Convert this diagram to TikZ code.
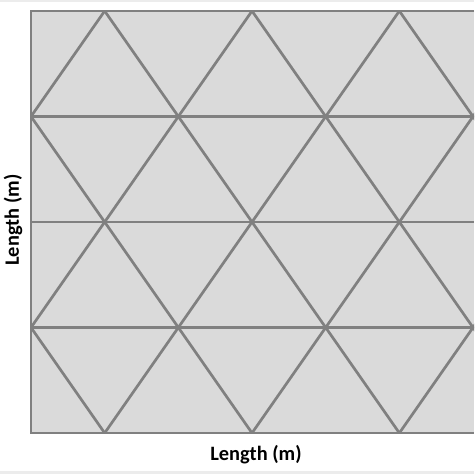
\documentclass[tikz,border=0pt]{standalone}
\usepackage{fontspec}
\setmainfont{Carlito}
\definecolor{meshgray}{RGB}{128,128,128}
\definecolor{panelgray}{RGB}{218,218,218}
\definecolor{stripgray}{RGB}{236,236,236}
\begin{document}
\begin{tikzpicture}
  [x=0.5pt,y=-0.5pt,every node/.style={font=\bfseries\fontsize{10.2}{12}\selectfont}]
  \tikzstyle{edge} = [draw=meshgray,line width=1.35pt]
  \useasboundingbox (0,0) rectangle (474,474);
  \fill[stripgray] (0,0) rectangle (474,2.5);
  \fill[stripgray] (0,471) rectangle (474,474);
  \fill[panelgray] (31,11) rectangle (474,433);

  \begin{scope}
    \clip (31,11) rectangle (474,433);
    \foreach \r in {1,2,3}
      \draw[edge] (31,{11+105.5*\r}) -- (474,{11+105.5*\r});
    \foreach \c in {-5,-3,...,5}
      \draw[edge] ({31+73.67*(\c)},11) -- ({31+73.67*(\c)+294.67},433);
    \foreach \c in {1,3,...,9}
      \draw[edge] ({31+73.67*(\c)},11) -- ({31+73.67*(\c)-294.67},433);
  \end{scope}
  \draw[edge] (474,11) -- (31,11) -- (31,433) -- (474,433);

  \node (xlabel) at (256,455) {Length (m)};
  \node[rotate=90] (ylabel) at (13,220) {Length (m)};

\end{tikzpicture}
\end{document}
